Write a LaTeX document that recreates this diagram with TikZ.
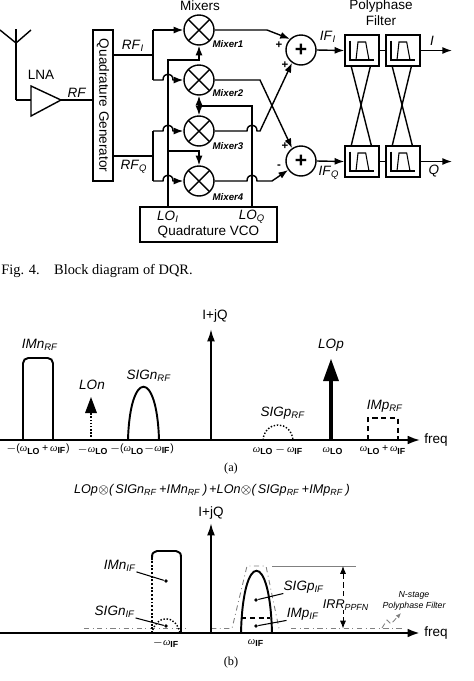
\documentclass[tikz,border=0pt]{standalone}
\usepackage{amsmath}
\usepackage{fontspec}
\setmainfont{Liberation Sans}
\newfontfamily\capfont{Liberation Serif}
\usepackage{xcolor}
\usetikzlibrary{arrows.meta,calc}

\newcommand{\lab}[2]{\textit{#1}\textsubscript{\textit{#2}}}
\newcommand{\omg}[1]{{\capfont\textit{ω}}\textsubscript{\textbf{#1}}}

\tikzset{
    wire/.style={line width=0.8pt},
    sigarrow/.style={wire,-{Latex[length=5.5pt,width=4pt]}},
    lab/.style={inner sep=0pt,font=\fontsize{7.7}{9}\selectfont},
    mixlab/.style={inner sep=0pt,font=\fontsize{5.5}{6}\selectfont\bfseries\itshape},
    tick/.style={inner sep=0pt,font=\fontsize{6}{8}\selectfont},
    signlab/.style={inner sep=0pt,font=\fontsize{6.5}{7}\selectfont\bfseries},
    mixer/.style={circle,draw,line width=0.8pt,minimum size=0.6cm,inner sep=0pt,
        path picture={
            \draw[wire] (path picture bounding box.north west)--(path picture bounding box.south east);
            \draw[wire] (path picture bounding box.north east)--(path picture bounding box.south west);
        }},
    summer/.style={circle,draw,line width=0.8pt,minimum size=0.6cm,inner sep=0pt,
        font=\fontsize{12}{12}\selectfont\bfseries},
    filterbox/.style={draw,line width=0.8pt,minimum width=0.68cm,minimum height=0.62cm,inner sep=0pt,
        path picture={
            \draw[wire,shift={(path picture bounding box.center)}] (-12,-10)--(-12,9.5)--(12,9.5);
            \draw[line width=0.6pt,shift={(path picture bounding box.center)}] (-6,9.5)--(-4,-8.5)--(3.7,-8.5)--(7,9.5);
        }},
    hop/.style={to path={-- ([shift={(-5,0)}]\tikztotarget) .. controls +(0,-8) and +(0,-8) .. ([shift={(5,0)}]\tikztotarget)}},
    spec/.style={line width=1.1pt},
    axis/.style={line width=1.1pt,-{Latex[length=7pt,width=5pt]}},
    dotmark/.style={circle,fill=black,inner sep=0.8pt},
    floorline/.style={gray,line width=0.5pt,dash dot},
}

\begin{document}
\begin{tikzpicture}[x=0.02cm,y=-0.02cm]
    \useasboundingbox (0,0) rectangle (474,681);

    % block diagram
    \coordinate (anttip) at (16,29);
    \coordinate (antfork) at (16,43);
    \coordinate (antfoot) at (16,100);
    \draw[wire] (0,30)--(antfork)--(31,30);
    \draw[wire] (anttip)--(antfoot);
    \coordinate (lnain) at (31,100);
    \coordinate (lnaout) at (61,100);
    \draw[wire] (31,86)--(lnaout)--(31,116)--cycle;
    \draw[wire] (antfoot)--(lnain);
    \node[lab] (lnalab) at (41,75) {LNA};
    \node[lab] (rflab) at (77,93) {\textit{RF}};

    \node[draw,wire,minimum width=0.4cm,minimum height=3.02cm,inner sep=0pt] (qgen) at (103,105.5) {};
    \node[lab,rotate=-90] (qgenlab) at (103,105.5) {Quadrature Generator};
    \draw[wire] (lnaout)--(qgen.west |- lnaout);

    \node[mixer] (mixa) at (199,30) {};
    \node[mixer] (mixb) at (199,80) {};
    \node[mixer] (mixc) at (199,131) {};
    \node[mixer] (mixd) at (199,181) {};
    \node[lab] (mixtitle) at (200,6) {Mixers};
    \node[mixlab] (mixalab) at (228,44) {Mixer1};
    \node[mixlab] (mixblab) at (228,93) {Mixer2};
    \node[mixlab] (mixclab) at (228,146) {Mixer3};
    \node[mixlab] (mixdlab) at (228,197) {Mixer4};

    \node[draw,wire,minimum width=2.74cm,minimum height=0.7cm,inner sep=0pt] (vco) at (208.5,224.5) {};
    \node[lab] (vcolab) at (208.5,232) {Quadrature VCO};
    \node[lab] (loilab) at (168,217) {\lab{LO}{I}};
    \node[lab] (loqlab) at (252,217) {\lab{LO}{Q}};

    \coordinate (rfi) at (153,55);
    \coordinate (rfq) at (153,156);
    \coordinate (loi) at (168,207);
    \coordinate (loq) at (252,207);
    \node[lab] (rfilab) at (133,46) {\lab{RF}{I}};
    \node[lab] (rfqlab) at (134,167) {\lab{RF}{Q}};
    \draw[wire] (qgen.east |- rfi)--(rfi);
    \draw[wire] (qgen.east |- rfq)--(rfq);
    \draw[wire] (rfi |- mixa)--(rfi |- mixb);
    \draw[wire] (rfq |- mixc)--(rfq |- mixd);
    \draw[sigarrow] (rfi |- mixa)--(mixa.west);
    \draw[sigarrow] (rfi |- mixb) to[hop] (loi |- mixb) -- (mixb.west);
    \draw[sigarrow] (rfq |- mixc) to[hop] (loi |- mixc) -- (mixc.west);
    \draw[sigarrow] (rfq |- mixd) to[hop] (loi |- mixd) -- (mixd.west);

    \coordinate (loitop) at (168,60);
    \coordinate (loimid) at (168,151);
    \coordinate (loqmid) at (252,106);
    \coordinate (loqsplit) at (199,106);
    \draw[sigarrow] (loi)--(loitop)-|(mixa.south);
    \draw[sigarrow] (loimid)-|(mixd.north);
    \draw[wire] (loq)--(loqmid)--(loqsplit);
    \draw[sigarrow] (loqsplit)--(mixb.south);
    \draw[sigarrow] (loqsplit)--(mixc.north);

    \node[summer] (suma) at (301,50) {+};
    \node[summer] (sumb) at (301,161) {+};
    \coordinate (benda) at (267,30);
    \coordinate (bendb) at (260,80);
    \coordinate (bendc) at (260,131);
    \coordinate (bendd) at (272,181);
    \draw[sigarrow] (mixa.east)--(benda)--(suma.135);
    \draw[sigarrow] (mixb.east)--(bendb)--(sumb.125);
    \draw[sigarrow] (mixc.east) to[hop] (loq |- mixc) -- (bendc)--(suma.235);
    \draw[sigarrow] (mixd.east) to[hop] (loq |- mixd) -- (bendd)--(sumb.215);
    \node[signlab] (plusa) at (279,45) {+};
    \node[signlab] (plusb) at (285,65) {+};
    \node[signlab] (plusc) at (285,146) {+};
    \node[signlab] (minusd) at (279,167) {-};

    \node[filterbox] (fia) at (362,50.5) {};
    \node[filterbox] (fib) at (403,50.5) {};
    \node[filterbox] (fqa) at (362,161.5) {};
    \node[filterbox] (fqb) at (403,161.5) {};
    \node[lab] (polylab) at (381,6) {Polyphase};
    \node[lab] (filtlab) at (381,21) {Filter};
    \draw[sigarrow] (suma.east)--(fia.west);
    \draw[sigarrow] (sumb.east)--(fqa.west);
    \draw[wire] (fia.east)--(fib.west);
    \draw[wire] (fqa.east)--(fqb.west);
    \coordinate (iout) at (452,50.5);
    \coordinate (qout) at (452,161.5);
    \draw[sigarrow] (fib.east)--(iout);
    \draw[sigarrow] (fqb.east)--(qout);
    \node[lab] (iflab) at (328,37) {\lab{IF}{I}};
    \node[lab] (qflab) at (329,173) {\lab{IF}{Q}};
    \node[lab] (ilab) at (432,41) {\textit{I}};
    \node[lab] (qlab) at (434,171) {\textit{Q}};
    \draw[wire] ($(fia.south west)+(7,0)$)--($(fqa.north west)+(27,0)$);
    \draw[wire] ($(fia.south west)+(26,0)$)--($(fqa.north west)+(7,0)$);
    \draw[wire] ($(fib.south west)+(7,0)$)--($(fqb.north west)+(27,0)$);
    \draw[wire] ($(fib.south west)+(26,0)$)--($(fqb.north west)+(7,0)$);

    \node[inner sep=0pt,anchor=west,font=\fontsize{8.2}{10}\selectfont\capfont] (caption) at (1,271) {Fig. 4.\quad Block diagram of DQR.};

    % spectrum (a)
    \coordinate (axa) at (0,440);
    \coordinate (axaend) at (420,440);
    \draw[axis] (axa)--(axaend);
    \node[lab] (freqa) at (436,440) {freq};
    \draw[spec,-{Latex[length=7pt,width=4.5pt]}] (211,440)--(211,329);
    \node[lab] (iqa) at (215,316) {I+jQ};
    \draw[spec,rounded corners=3pt] (23,440)--(23,358)--(53,358)--(53,440);
    \node[lab] (imnrf) at (40,345) {\lab{IMn}{RF}};
    \draw[wire,densely dotted] (91,440)--(91,413);
    \fill (85,413)--(91,397)--(97,413)--cycle;
    \node[lab] (lon) at (92,385) {\textit{LOn}};
    \draw[spec] (128,440) .. controls (130,369) and (157,369) .. (159,440);
    \node[lab] (signrf) at (149,376) {\lab{SIGn}{RF}};
    \draw[wire,densely dotted] (263,440) .. controls (265,420) and (291,420) .. (293,440);
    \node[lab] (sigprf) at (283,413) {\lab{SIGp}{RF}};
    \draw[line width=1.8pt] (331,440)--(331,380);
    \fill (323,381)--(331,359)--(339,381)--cycle;
    \node[lab] (lop) at (331,345) {\textit{LOp}};
    \draw[wire,densely dashed] (368,440)--(368,418)--(398,418)--(398,440);
    \node[lab] (imprf) at (385,406) {\lab{IMp}{RF}};
    \node[tick] (ta) at (38,449) {$-$(\omg{LO}\,+\,\omg{IF})};
    \node[tick] (tb) at (93,450) {$-$\omg{LO}};
    \node[tick] (tc) at (142,449) {$-$(\omg{LO}$-$\omg{IF})};
    \node[tick] (td) at (278,450) {\omg{LO}\,$-$\,\omg{IF}};
    \node[tick] (te) at (333,451) {\omg{LO}};
    \node[tick] (tf) at (383,450) {\omg{LO}\,+\,\omg{IF}};
    \node[inner sep=0pt,font=\fontsize{7}{8}\selectfont\capfont] (cappa) at (231,469) {(a)};

    % spectrum (b)
    \node[inner sep=0pt,font=\fontsize{7.2}{9}\selectfont] (formula) at (212,490)
        {\textit{LOp}$\otimes$\textit{(\,SIGn}\textsubscript{\textit{RF}}\,+\textit{IMn}\textsubscript{\textit{RF}}\,\textit{)}\,+\textit{LOn}$\otimes$\textit{(\,SIGp}\textsubscript{\textit{RF}}\,+\textit{IMp}\textsubscript{\textit{RF}}\,\textit{)}};
    \draw[floorline] (84,628.5)--(187,628.5);
    \draw[floorline] (211,628.5)--(232,628.5)--(247,566)--(266,566)--(279,628.5);
    \draw[gray,line width=0.5pt] (272,566)--(356,566);
    \draw[floorline] (291,628.5)--(405,628.5);
    \draw[axis,line width=1.4pt] (0,633)--(420,633);
    \node[lab] (freqb) at (436,633) {freq};
    \draw[spec,-{Latex[length=7pt,width=4.5pt]}] (211,633)--(211,523);
    \node[lab] (iqb) at (211,513) {I+jQ};
    \draw[spec,densely dotted] (152,633)--(152,560);
    \draw[spec] (152,560) .. controls (152,553) .. (157,551) -- (176,551) .. controls (181,553) .. (181,560) -- (181,633);
    \draw[wire,densely dotted] (152,633) .. controls (156,614) and (176,614) .. (180,633);
    \draw[spec] (241,633) .. controls (243,550) and (270,550) .. (272,633);
    \draw[wire,densely dashed] (241,618)--(270,618);

    \node[dotmark] (dimn) at (166,581) {};
    \node[dotmark] (dsign) at (166,626) {};
    \node[dotmark] (dsigp) at (256,600) {};
    \node[dotmark] (dimp) at (256,626) {};
    \node[lab] (imnif) at (120,566) {\lab{IMn}{IF}};
    \node[lab] (signif) at (115,612) {\lab{SIGn}{IF}};
    \node[lab] (sigpif) at (304,587) {\lab{SIGp}{IF}};
    \node[lab] (impif) at (303,614) {\lab{IMp}{IF}};
    \draw[line width=0.6pt] (imnif.south east)--(dimn);
    \draw[line width=0.6pt] (signif.south east)--(dsign);
    \draw[line width=0.6pt] (sigpif.south west)--(dsigp);
    \draw[line width=0.6pt] (impif.south west)--(dimp);

    \coordinate (irrtop) at (343,566);
    \coordinate (irrbot) at (343,628.5);
    \draw[line width=0.5pt,densely dashed,{Latex[length=4.5pt,width=3.5pt]}-{Latex[length=4.5pt,width=3.5pt]}] (irrtop)--(irrbot);
    \node[lab,fill=white,font=\fontsize{7.2}{9}\selectfont] (irr) at (346,605) {\lab{IRR}{PPFN}};
    \node[inner sep=0pt,font=\fontsize{5}{6}\selectfont\itshape] (nstage) at (414,595) {N-stage};
    \node[inner sep=0pt,font=\fontsize{5}{6}\selectfont\itshape] (ppf) at (414,606) {Polyphase Filter};
    \draw[gray,line width=0.5pt,densely dashed,-{Latex[length=3pt,width=2.5pt]}] (382,628)--(387,620)--(391,624)--(401,613);
    \node[tick] (tg) at (166,643) {$-$\omg{IF}};
    \node[tick] (th) at (256,643) {\omg{IF}};
    \node[inner sep=0pt,font=\fontsize{7}{8}\selectfont\capfont] (cappb) at (231,663) {(b)};
\end{tikzpicture}
\end{document}
